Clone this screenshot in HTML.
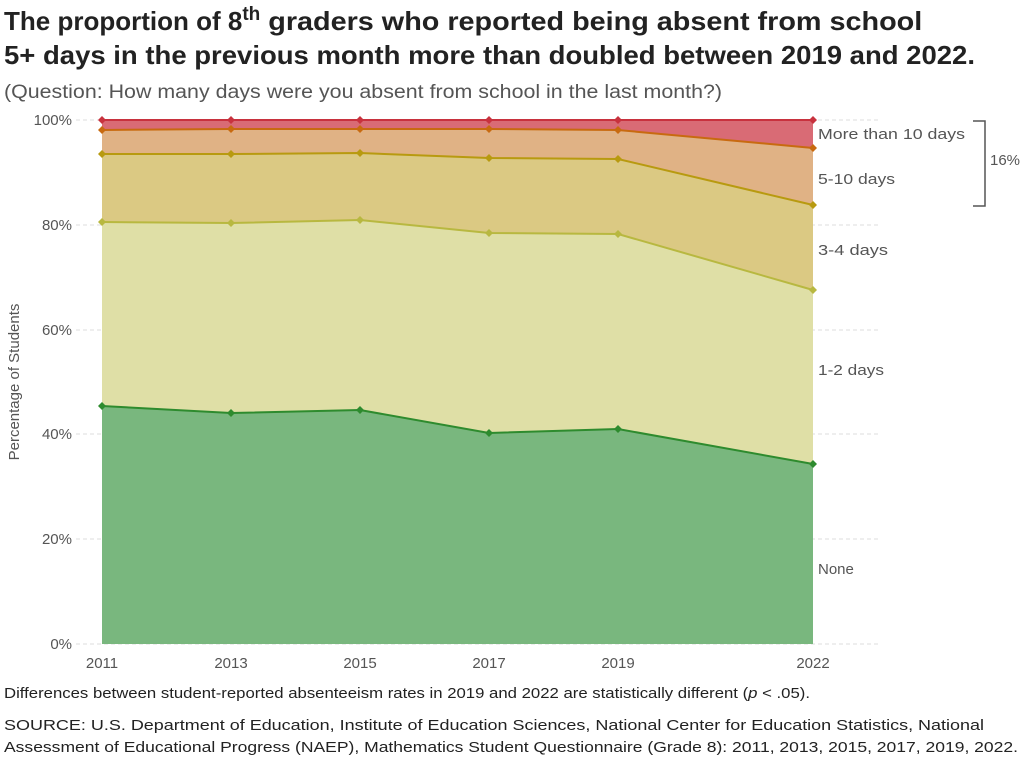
<!DOCTYPE html>
<html><head><meta charset="utf-8"><style>
body{margin:0;width:1024px;height:768px;background:#fff;overflow:hidden}
svg{display:block;font-family:"Liberation Sans",sans-serif}
</style></head><body>
<svg width="1024" height="768" viewBox="0 0 1024 768">
<text x="4" y="30" font-size="26" font-weight="bold" fill="#222">The proportion of 8<tspan dy="-10" font-size="19">th</tspan><tspan dy="10" textLength="662" lengthAdjust="spacingAndGlyphs"> graders who reported being absent from school</tspan></text>
<text x="4" y="64" font-size="26" font-weight="bold" fill="#222" textLength="971" lengthAdjust="spacingAndGlyphs">5+ days in the previous month more than doubled between 2019 and 2022.</text>
<text x="4" y="98" font-size="19" fill="#555" textLength="718" lengthAdjust="spacingAndGlyphs">(Question: How many days were you absent from school in the last month?)</text>
<g stroke="#ddd" stroke-dasharray="4,3">
<line x1="76" x2="880" y1="120" y2="120"/><line x1="76" x2="880" y1="225" y2="225"/><line x1="76" x2="880" y1="330" y2="330"/><line x1="76" x2="880" y1="434" y2="434"/><line x1="76" x2="880" y1="539" y2="539"/><line x1="76" x2="880" y1="644" y2="644"/>
</g>
<g font-size="15" fill="#555" text-anchor="end">
<text x="72" y="125">100%</text><text x="72" y="230">80%</text><text x="72" y="335">60%</text><text x="72" y="439">40%</text><text x="72" y="544">20%</text><text x="72" y="649">0%</text>
</g>
<text transform="translate(19,382) rotate(-90)" font-size="15" fill="#555" text-anchor="middle">Percentage of Students</text>
<polygon fill="#d96b75" points="102,120 231,120 360,120 489,120 618,120 813,120 813,148 618,130 489,129 360,129 231,129 102,130"/>
<polygon fill="#e0b285" points="102,130 231,129 360,129 489,129 618,130 813,148 813,205 618,159 489,158 360,153 231,154 102,154"/>
<polygon fill="#dbc983" points="102,154 231,154 360,153 489,158 618,159 813,205 813,290 618,234 489,233 360,220 231,223 102,222"/>
<polygon fill="#dfdfa6" points="102,222 231,223 360,220 489,233 618,234 813,290 813,464 618,429 489,433 360,410 231,413 102,406"/>
<polygon fill="#79b77e" points="102,406 231,413 360,410 489,433 618,429 813,464 813,644 102,644"/>
<g fill="none" stroke-width="2">
<polyline stroke="#c8323e" points="102,120 231,120 360,120 489,120 618,120 813,120"/>
<polyline stroke="#c86a10" points="102,130 231,129 360,129 489,129 618,130 813,148"/>
<polyline stroke="#b89a10" points="102,154 231,154 360,153 489,158 618,159 813,205"/>
<polyline stroke="#b8b840" points="102,222 231,223 360,220 489,233 618,234 813,290"/>
<polyline stroke="#2e8b2e" points="102,406 231,413 360,410 489,433 618,429 813,464"/>
</g>
<defs><path id="d" d="M0,-4L4,0L0,4L-4,0Z"/></defs>
<g fill="#c8323e"><use href="#d" x="102" y="120"/><use href="#d" x="231" y="120"/><use href="#d" x="360" y="120"/><use href="#d" x="489" y="120"/><use href="#d" x="618" y="120"/><use href="#d" x="813" y="120"/></g>
<g fill="#c86a10"><use href="#d" x="102" y="130"/><use href="#d" x="231" y="129"/><use href="#d" x="360" y="129"/><use href="#d" x="489" y="129"/><use href="#d" x="618" y="130"/><use href="#d" x="813" y="148"/></g>
<g fill="#b89a10"><use href="#d" x="102" y="154"/><use href="#d" x="231" y="154"/><use href="#d" x="360" y="153"/><use href="#d" x="489" y="158"/><use href="#d" x="618" y="159"/><use href="#d" x="813" y="205"/></g>
<g fill="#b8b840"><use href="#d" x="102" y="222"/><use href="#d" x="231" y="223"/><use href="#d" x="360" y="220"/><use href="#d" x="489" y="233"/><use href="#d" x="618" y="234"/><use href="#d" x="813" y="290"/></g>
<g fill="#2e8b2e"><use href="#d" x="102" y="406"/><use href="#d" x="231" y="413"/><use href="#d" x="360" y="410"/><use href="#d" x="489" y="433"/><use href="#d" x="618" y="429"/><use href="#d" x="813" y="464"/></g>
<g font-size="15" fill="#555" text-anchor="middle">
<text x="102" y="668">2011</text><text x="231" y="668">2013</text><text x="360" y="668">2015</text><text x="489" y="668">2017</text><text x="618" y="668">2019</text><text x="813" y="668">2022</text>
</g>
<g font-size="15" fill="#555">
<text x="818" y="139" textLength="147" lengthAdjust="spacingAndGlyphs">More than 10 days</text><text x="818" y="184" textLength="77" lengthAdjust="spacingAndGlyphs">5-10 days</text><text x="818" y="255" textLength="70" lengthAdjust="spacingAndGlyphs">3-4 days</text><text x="818" y="375" textLength="66" lengthAdjust="spacingAndGlyphs">1-2 days</text><text x="818" y="574">None</text>
<text x="990" y="165">16%</text>
</g>
<path d="M973,121H985V206H973" fill="none" stroke="#555" stroke-width="1.5"/>
<text x="4" y="698" font-size="15" fill="#222" textLength="806" lengthAdjust="spacingAndGlyphs">Differences between student-reported absenteeism rates in 2019 and 2022 are statistically different (<tspan font-style="italic">p</tspan> &lt; .05).</text>
<text x="4" y="730" font-size="15" fill="#222" textLength="980" lengthAdjust="spacingAndGlyphs">SOURCE: U.S. Department of Education, Institute of Education Sciences, National Center for Education Statistics, National</text>
<text x="4" y="752" font-size="15" fill="#222" textLength="1014" lengthAdjust="spacingAndGlyphs">Assessment of Educational Progress (NAEP), Mathematics Student Questionnaire (Grade 8): 2011, 2013, 2015, 2017, 2019, 2022.</text>
</svg>
</body></html>
